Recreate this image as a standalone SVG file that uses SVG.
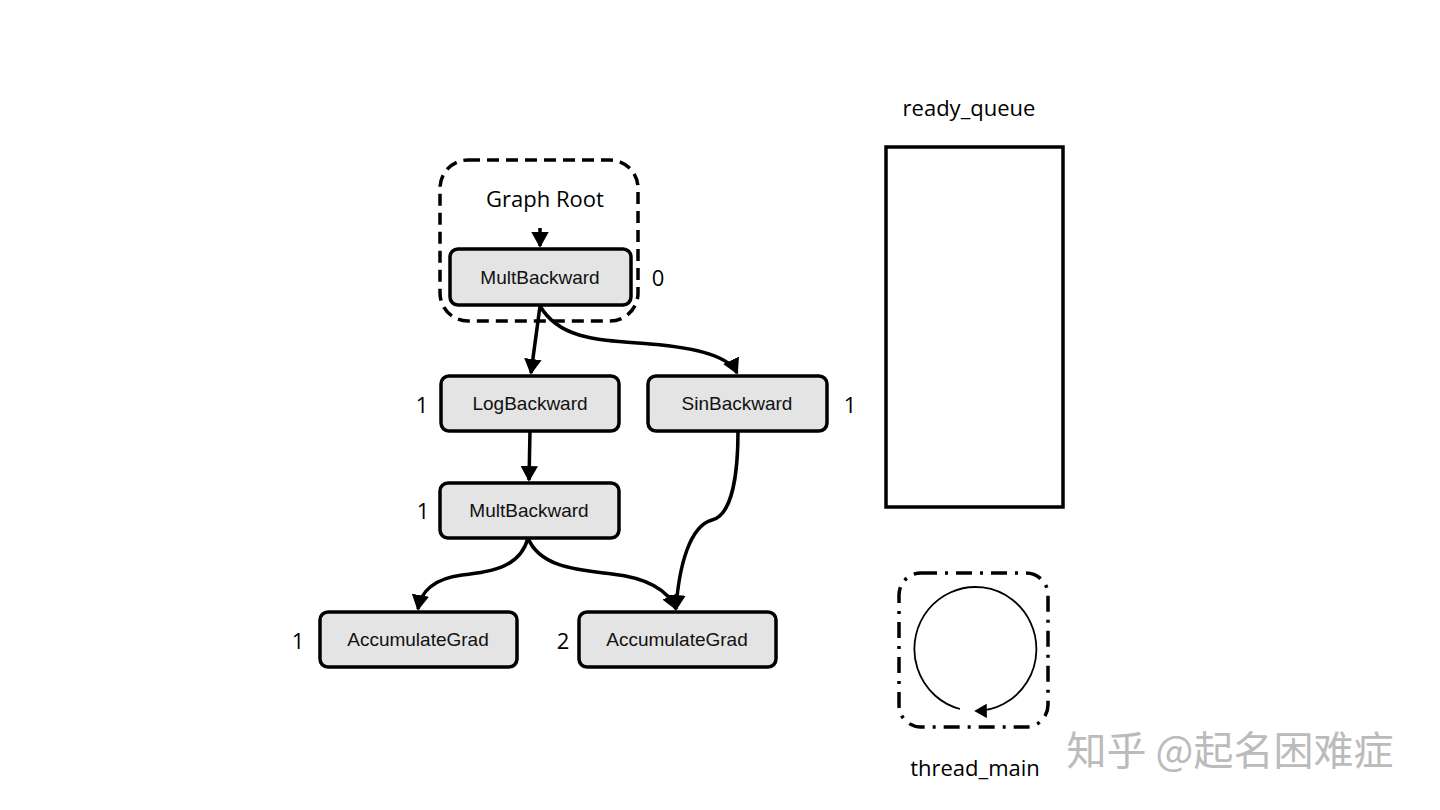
<svg xmlns="http://www.w3.org/2000/svg" width="1440" height="810" viewBox="0 0 1440 810">
<defs>
<marker id="ah" markerWidth="5" markerHeight="5" refX="4" refY="2.5" orient="auto" markerUnits="strokeWidth"><path d="M0,0 L4.5,2.5 L0,5 z" fill="#000"/></marker>
<marker id="ah2" markerWidth="8" markerHeight="8" refX="6" refY="4" orient="auto" markerUnits="strokeWidth"><path d="M0,0 L7,4 L0,8 z" fill="#000"/></marker>
</defs>
<style>
.n{fill:#e4e4e4;stroke:#000;stroke-width:3.5}
.t{font-family:"Liberation Sans",Arial,sans-serif;font-size:19px;text-anchor:middle;fill:#111}
.l{font-family:"Open Sans","Noto Sans",sans-serif;font-size:22px;text-anchor:middle;fill:#000}
.c{fill:none;stroke:#000;stroke-width:3.5;marker-end:url(#ah)}
</style>
<rect width="1440" height="810" fill="#fff"/>
<g id="graph-root">
<rect x="440" y="160" width="198" height="161" rx="28" fill="none" stroke="#000" stroke-width="3.5" stroke-dasharray="12,7"/>
<text class="l" x="545" y="207">Graph Root</text>
</g>
<g id="mult0"><rect class="n" x="450" y="249" width="181" height="56" rx="8"/><text class="t" x="540" y="284">MultBackward</text><text class="l" x="658" y="286">0</text></g>
<g id="log"><rect class="n" x="441" y="376" width="178" height="55" rx="8"/><text class="t" x="530" y="410">LogBackward</text><text class="l" x="422" y="413">1</text></g>
<g id="sin"><rect class="n" x="648" y="376" width="179" height="55" rx="8"/><text class="t" x="737" y="410">SinBackward</text><text class="l" x="850" y="413">1</text></g>
<g id="mult1"><rect class="n" x="440" y="483" width="179" height="55" rx="8"/><text class="t" x="529" y="517">MultBackward</text><text class="l" x="423" y="519">1</text></g>
<g id="acc1"><rect class="n" x="320" y="612" width="197" height="55" rx="8"/><text class="t" x="418" y="646">AccumulateGrad</text><text class="l" x="298" y="649">1</text></g>
<g id="acc2"><rect class="n" x="579" y="612" width="197" height="55" rx="8"/><text class="t" x="677" y="646">AccumulateGrad</text><text class="l" x="563" y="649">2</text></g>
<g id="ready-queue"><rect x="886" y="147" width="177" height="360" fill="none" stroke="#000" stroke-width="3.5"/><text class="l" x="969" y="116">ready_queue</text></g>
<g id="thread-main">
<rect x="899" y="573" width="149" height="154" rx="22" fill="none" stroke="#000" stroke-width="3.5" stroke-dasharray="16,8,3,8"/>
<path d="M960,709 A61,62 0 1 1 976,711" fill="none" stroke="#000" stroke-width="1.8" marker-end="url(#ah2)"/>
<text class="l" x="975" y="776">thread_main</text>
</g>
<g id="connectors">
<path class="c" d="M540,228 L540,246"/>
<path class="c" d="M540,306 L531,373"/>
<path class="c" d="M540,306 C560,340 600,340 650,344 C700,348 730,358 737,373"/>
<path class="c" d="M530,431 L529,480"/>
<path class="c" d="M738,431 C738,470 733,515 712,520 C690,526 679,565 676,609"/>
<path class="c" d="M528,538 C520,568 490,572 462,575 C432,579 421,592 418,609"/>
<path class="c" d="M528,538 C540,568 580,570 612,574 C648,578 668,590 676,609"/>
</g>
<text x="1230" y="765" font-family="Noto Sans CJK SC,sans-serif" font-size="40" text-anchor="middle" fill="#bbb">知乎 @起名困难症</text>
</svg>
